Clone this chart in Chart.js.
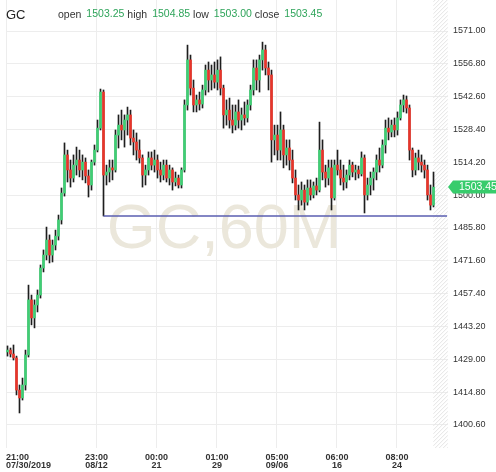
<!DOCTYPE html>
<html><head><meta charset="utf-8">
<script src="https://cdn.jsdelivr.net/npm/chart.js@4.4.0/dist/chart.umd.min.js"></script>
<style>html,body{margin:0;padding:0;background:#fff;}canvas{display:block;}</style>
</head><body>
<canvas id="c" width="496" height="472"></canvas>
<script>
const symbol = 'GC';
const watermark = 'GC,60M';
const ohlcLabels = ['open', 'high', 'low', 'close'];
const ohlcValues = ['1503.25', '1504.85', '1503.00', '1503.45'];
const lastPrice = 1503.45;
const supportLevel = 1491.0;
const supportFrom = 32.5;
const supportTo = 147;
const hatchFrom = 142.4;
const xMax = 147.33;
const tickPositions = [0, 30.2, 50.2, 70.3, 90.3, 110.3, 130.3];
const tickHours = ['21:00', '23:00', '00:00', '01:00', '05:00', '06:00', '08:00'];
const tickDates = ['07/30/2019', '08/12', '21', '29', '09/06', '16', '24'];
const yTicks = [1400.60, 1414.80, 1429.00, 1443.20, 1457.40, 1471.60, 1485.80, 1500.00, 1514.20, 1528.40, 1542.60, 1556.80, 1571.00];

const opens = [1432.2,1433.0,1431.3,1429.6,1415.7,1412.3,1417.9,1430.9,1454.7,1446.9,
1452.5,1456.8,1468.5,1474.1,1480.6,1474.1,1478.4,1482.3,1489.3,1500.9,
1517.4,1510.9,1507.4,1513.0,1515.2,1510.9,1514.3,1508.3,1504.4,1514.3,
1519.5,1529.0,1544.6,1508.7,1510.0,1511.8,1510.9,1526.0,1530.3,1528.2,
1532.5,1534.7,1524.7,1523.0,1519.5,1516.1,1508.7,1510.9,1516.1,1513.0,
1515.2,1510.9,1508.7,1513.0,1507.4,1510.9,1505.7,1507.4,1504.4,1510.9,
1539.0,1558.5,1546.3,1539.0,1541.2,1539.4,1545.5,1554.1,1549.8,1552.0,
1548.9,1554.1,1546.3,1534.7,1536.8,1532.5,1530.3,1536.0,1532.5,1534.7,
1533.4,1539.0,1545.5,1555.0,1549.8,1558.5,1562.8,1555.0,1552.0,1523.9,
1526.0,1519.5,1528.2,1517.4,1520.4,1515.2,1507.4,1500.1,1497.9,1502.2,
1497.0,1503.1,1500.1,1504.0,1502.2,1519.5,1510.0,1507.4,1511.8,1498.8,
1513.0,1510.9,1507.4,1505.7,1508.7,1513.0,1510.0,1510.9,1509.2,1516.1,
1500.1,1504.4,1507.4,1510.0,1515.2,1513.0,1521.7,1529.0,1527.3,1530.3,
1528.2,1533.4,1539.0,1541.2,1537.7,1519.5,1510.9,1516.1,1514.3,1513.0,
1510.9,1500.1,1495.7];
const highs = [1434.8,1433.9,1435.2,1430.4,1417.9,1420.9,1433.0,1461.1,1456.8,1454.7,
1459.0,1469.8,1476.3,1486.2,1482.8,1480.6,1484.9,1491.4,1503.1,1522.6,
1519.5,1515.2,1517.4,1520.8,1519.5,1517.4,1516.1,1510.9,1515.2,1521.7,
1532.5,1545.9,1545.5,1513.0,1515.2,1515.2,1528.2,1534.7,1536.8,1534.7,
1538.1,1536.8,1528.2,1526.9,1523.9,1517.4,1513.0,1518.7,1518.7,1519.5,
1517.4,1514.3,1515.2,1515.2,1513.0,1511.8,1510.0,1508.7,1511.8,1541.2,
1564.9,1560.6,1549.8,1543.3,1544.6,1547.6,1556.3,1557.6,1556.3,1557.6,
1558.5,1559.8,1547.6,1541.2,1542.0,1539.0,1539.0,1541.2,1537.7,1540.3,
1541.2,1547.6,1558.5,1558.5,1560.6,1566.2,1564.9,1557.6,1554.1,1530.3,
1530.3,1536.0,1530.3,1523.9,1523.9,1519.5,1510.9,1504.4,1505.7,1504.4,
1506.6,1506.6,1505.7,1507.4,1531.6,1523.9,1513.0,1515.2,1515.2,1515.2,
1519.5,1515.2,1513.0,1510.9,1515.2,1514.3,1513.0,1512.6,1518.7,1517.4,
1507.4,1510.0,1511.8,1517.4,1520.4,1523.9,1532.5,1533.4,1532.5,1533.4,
1536.0,1541.2,1543.3,1542.9,1539.0,1520.4,1518.2,1519.5,1517.4,1515.2,
1513.0,1504.4,1510.0];
const lows = [1430.4,1430.0,1428.7,1413.6,1405.8,1411.4,1415.7,1430.0,1443.9,1442.6,
1449.5,1455.5,1466.8,1472.0,1470.7,1471.1,1476.3,1480.6,1487.5,1499.6,
1505.7,1503.5,1505.7,1508.7,1507.9,1506.6,1505.3,1499.2,1502.2,1513.0,
1518.7,1528.2,1491.0,1504.4,1505.7,1506.6,1510.0,1520.4,1523.9,1520.8,
1526.0,1521.7,1517.4,1515.2,1513.9,1503.5,1504.4,1508.7,1510.9,1510.0,
1507.4,1505.7,1506.6,1505.7,1504.4,1502.2,1504.0,1503.1,1503.1,1510.0,
1536.8,1543.3,1536.0,1536.0,1536.8,1537.7,1543.3,1544.6,1545.5,1546.3,
1545.5,1543.3,1529.0,1530.3,1529.0,1526.9,1528.2,1529.0,1528.2,1530.3,
1531.6,1536.8,1543.3,1545.5,1544.6,1554.1,1552.0,1545.5,1514.3,1517.4,
1515.2,1515.2,1511.8,1513.0,1510.9,1505.3,1497.9,1493.6,1495.7,1493.6,
1495.7,1497.9,1498.8,1500.1,1501.4,1506.6,1503.5,1504.4,1493.6,1497.9,
1508.7,1504.4,1502.2,1503.1,1506.6,1507.9,1506.6,1507.4,1508.3,1492.3,
1497.9,1500.1,1502.2,1506.6,1510.0,1511.8,1518.2,1523.9,1525.2,1525.2,
1526.0,1532.5,1536.0,1535.5,1515.2,1507.9,1508.7,1510.9,1510.0,1507.4,
1497.9,1493.6,1494.9];
const closes = [1433.0,1431.3,1429.6,1415.7,1412.3,1417.9,1430.9,1454.7,1446.9,1452.5,
1456.8,1468.5,1474.1,1480.6,1474.1,1478.4,1482.3,1489.3,1500.9,1517.4,
1510.9,1507.4,1513.0,1515.2,1510.9,1514.3,1508.3,1504.4,1514.3,1519.5,
1529.0,1544.6,1508.7,1510.0,1511.8,1510.9,1526.0,1530.3,1528.2,1532.5,
1534.7,1524.7,1523.0,1519.5,1516.1,1508.7,1510.9,1516.1,1513.0,1515.2,
1510.9,1508.7,1513.0,1507.4,1510.9,1505.7,1507.4,1504.4,1510.9,1539.0,
1558.5,1546.3,1539.0,1541.2,1539.4,1545.5,1554.1,1549.8,1552.0,1548.9,
1554.1,1546.3,1534.7,1536.8,1532.5,1530.3,1536.0,1532.5,1534.7,1533.4,
1539.0,1545.5,1555.0,1549.8,1558.5,1562.8,1555.0,1552.0,1523.9,1526.0,
1519.5,1528.2,1517.4,1520.4,1515.2,1507.4,1500.1,1497.9,1502.2,1497.0,
1503.1,1500.1,1504.0,1502.2,1519.5,1510.0,1507.4,1511.8,1498.8,1513.0,
1510.9,1507.4,1505.7,1508.7,1513.0,1510.0,1510.9,1509.2,1516.1,1500.1,
1504.4,1507.4,1510.0,1515.2,1513.0,1521.7,1529.0,1527.3,1530.3,1528.2,
1533.4,1539.0,1541.2,1537.7,1519.5,1510.9,1516.1,1514.3,1513.0,1510.9,
1500.1,1495.7,1503.45];

const UP = '#3fcf74', DOWN = '#e8352a', WICK = '#1e1e1e';
const FONT = "Arial, 'Liberation Sans', sans-serif";

const bodyData = opens.map((o, i) => ({x: i + 0.5, y: [o, closes[i]]}));
const wickData = highs.map((h, i) => ({x: i + 0.5, y: [lows[i], h]}));

const decor = {
  id: 'decor',
  beforeDatasetsDraw(chart) {
    const {ctx, chartArea: a, scales: {x}} = chart;
    ctx.save();
    ctx.font = '63px ' + FONT;
    ctx.fillStyle = '#ebe7db';
    ctx.textAlign = 'center';
    ctx.textBaseline = 'alphabetic';
    ctx.fillText(watermark, (a.left + a.right) / 2 - 3, a.top + (a.bottom - a.top) / 2 + 24);
    const hx = x.getPixelForValue(hatchFrom);
    ctx.beginPath();
    ctx.rect(hx, a.top, a.right - hx, a.bottom - a.top);
    ctx.clip();
    ctx.strokeStyle = '#e4e4e4';
    ctx.lineWidth = 1;
    for (let k = a.top - 30; k < a.bottom + 30; k += 4) {
      ctx.beginPath();
      ctx.moveTo(hx, k + 20);
      ctx.lineTo(a.right, k + 20 - (a.right - hx));
      ctx.stroke();
    }
    ctx.restore();
  },
  afterDraw(chart) {
    const {ctx, scales: {y}} = chart;
    ctx.save();
    ctx.textAlign = 'left';
    ctx.textBaseline = 'alphabetic';
    ctx.font = '13px ' + FONT;
    ctx.fillStyle = '#222';
    ctx.fillText(symbol, 6, 19);
    let cx = 58;
    ohlcLabels.forEach((lab, i) => {
      ctx.font = '10.5px ' + FONT;
      ctx.fillStyle = '#333';
      ctx.fillText(lab, cx, 18);
      cx += ctx.measureText(lab).width + 5;
      ctx.fillStyle = '#2ea45a';
      ctx.fillText(ohlcValues[i], cx, 16.5);
      cx += ctx.measureText(ohlcValues[i]).width + 3;
    });
    const py = Math.round(y.getPixelForValue(lastPrice));
    const left = chart.chartArea.right;
    ctx.fillStyle = '#38cc6c';
    ctx.beginPath();
    ctx.moveTo(left, py);
    ctx.lineTo(left + 5, py - 6.5);
    ctx.lineTo(chart.width, py - 6.5);
    ctx.lineTo(chart.width, py + 6.5);
    ctx.lineTo(left + 5, py + 6.5);
    ctx.closePath();
    ctx.fill();
    ctx.fillStyle = '#fff';
    ctx.font = '10.5px ' + FONT;
    ctx.textBaseline = 'middle';
    ctx.fillText(lastPrice.toFixed(2), left + 11, py + 0.5);
    ctx.restore();
  }
};

new Chart(document.getElementById('c'), {
  type: 'bar',
  data: {
    datasets: [
      {type: 'line', data: [{x: supportFrom, y: supportLevel}, {x: supportTo, y: supportLevel}],
       borderColor: '#5a5eb0', borderWidth: 1.5, pointRadius: 0, fill: false},
      {data: bodyData, barThickness: 2, grouped: false,
       backgroundColor: c => closes[c.dataIndex] >= opens[c.dataIndex] ? UP : DOWN,
       borderWidth: 0, minBarLength: 1},
      {data: wickData, barThickness: 1, grouped: false, backgroundColor: WICK, borderWidth: 0}
    ]
  },
  options: {
    responsive: false, animation: false,
    layout: {padding: {left: 6, right: 0, top: 0, bottom: 0}},
    plugins: {legend: {display: false}, tooltip: {enabled: false}},
    scales: {
      x: {
        type: 'linear', min: 0, max: xMax, bounds: 'data', position: 'bottom', offset: false,
        afterBuildTicks: s => { s.ticks = tickPositions.map(v => ({value: v})).concat([{value: xMax}]); },
        afterFit: s => { s.height = 24; s.paddingLeft = 0; s.paddingRight = 0; },
        ticks: {
          autoSkip: false, maxRotation: 0, minRotation: 0, align: 'inner', padding: 5,
          color: '#333', font: {family: FONT, size: 9, weight: 'bold', lineHeight: 0.9},
          callback: (v, i) => i < tickHours.length ? [tickHours[i], tickDates[i]] : ''
        },
        grid: {offset: false, color: c => c.index < tickHours.length ? '#ededed' : 'rgba(0,0,0,0)', drawTicks: false},
        border: {display: false}
      },
      y: {
        type: 'linear', position: 'right', min: 1390.65, max: 1584.41, bounds: 'data',
        afterBuildTicks: s => { s.ticks = yTicks.map(v => ({value: v})); },
        afterFit: s => { s.width = 48; s.paddingTop = 0; s.paddingBottom = 0; },
        ticks: {padding: 5, color: '#333', font: {family: FONT, size: 9}, callback: v => Number(v).toFixed(2)},
        grid: {color: '#ededed', drawTicks: false},
        border: {display: false}
      }
    }
  },
  plugins: [decor]
});
</script>
</body></html>
